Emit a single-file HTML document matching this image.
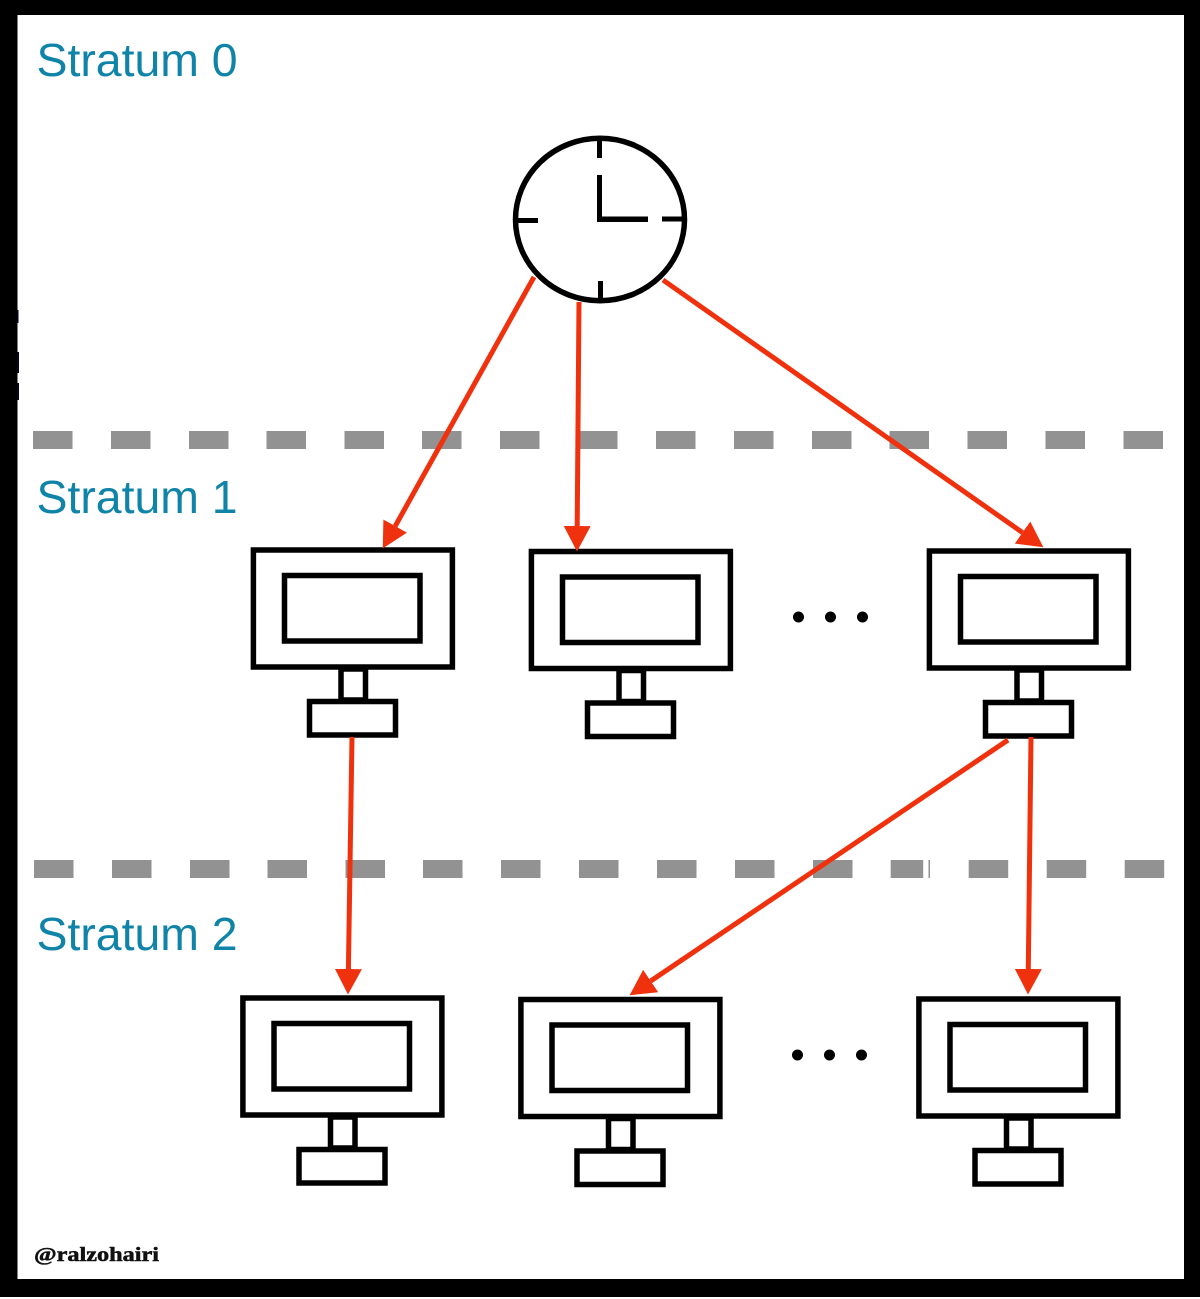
<!DOCTYPE html>
<html>
<head>
<meta charset="utf-8">
<style>
html,body{margin:0;padding:0;background:#fff;width:1200px;height:1299px;overflow:hidden}
svg{display:block}
</style>
</head>
<body>
<svg xmlns="http://www.w3.org/2000/svg" xmlns:xlink="http://www.w3.org/1999/xlink" width="1200" height="1299" viewBox="0 0 1200 1299">
<defs>
<marker id="ah" markerUnits="userSpaceOnUse" markerWidth="26" markerHeight="27" viewBox="0 -13.500 26 27" refX="0" refY="0" orient="auto">
<path d="M0,-13.500 L25.500,0 L0,13.500 z" fill="#f0310e"/>
</marker>
<g id="mon" fill="#fff" stroke="#000" stroke-width="5.500">
<rect x="253.400" y="550" width="199" height="117"/>
<rect x="284.500" y="575.500" width="135.500" height="65.500"/>
<rect x="341" y="669" width="24.500" height="31"/>
<rect x="309.500" y="701.500" width="86" height="33.500"/>
</g>
</defs>
<rect width="1200" height="1299" fill="#fff"/>
<rect x="0" y="0" width="1200" height="1297" fill="#000"/>
<rect x="17.500" y="15" width="1166.500" height="1264" fill="#fff"/>
<g fill="#05051f">
<rect x="17" y="310" width="1.500" height="13"/>
<rect x="17" y="352" width="2" height="21"/>
<rect x="17" y="383" width="2" height="17"/>
</g>

<g fill="#929292">
<rect x="33" y="431" width="39.500" height="18"/><rect x="111" y="431" width="39.500" height="18"/><rect x="189" y="431" width="39.500" height="18"/><rect x="266.500" y="431" width="39.500" height="18"/><rect x="344.500" y="431" width="39.500" height="18"/><rect x="422" y="431" width="39.500" height="18"/><rect x="500" y="431" width="39.500" height="18"/><rect x="578" y="431" width="39.500" height="18"/><rect x="656" y="431" width="39.500" height="18"/><rect x="734" y="431" width="39.500" height="18"/><rect x="812" y="431" width="39.500" height="18"/><rect x="889.500" y="431" width="39.500" height="18"/><rect x="967.500" y="431" width="39.500" height="18"/><rect x="1045.500" y="431" width="39.500" height="18"/><rect x="1123.500" y="431" width="39.500" height="18"/>
<rect x="34" y="860" width="39.500" height="18"/><rect x="112" y="860" width="39.500" height="18"/><rect x="190" y="860" width="39.500" height="18"/><rect x="267.500" y="860" width="39.500" height="18"/><rect x="345.500" y="860" width="39.500" height="18"/><rect x="423" y="860" width="39.500" height="18"/><rect x="501" y="860" width="39.500" height="18"/><rect x="579" y="860" width="39.500" height="18"/><rect x="657" y="860" width="39.500" height="18"/><rect x="735" y="860" width="39.500" height="18"/><rect x="813" y="860" width="39.500" height="18"/><rect x="890.700" y="860" width="32.500" height="18"/><rect x="928.500" y="860" width="1.500" height="18"/><rect x="968.700" y="860" width="39.500" height="18"/><rect x="1046.700" y="860" width="39.500" height="18"/><rect x="1124.700" y="860" width="39.500" height="18"/>
</g>

<g font-family="'Liberation Sans', Arial, sans-serif" font-size="46.400" fill="#0f84a8">
<text x="36.500" y="76">Stratum 0</text>
<text x="36.500" y="513">Stratum 1</text>
<text x="36.500" y="950">Stratum 2</text>
</g>
<text x="34" y="1261" font-family="'Liberation Serif', serif" font-weight="bold" font-size="20" textLength="125" lengthAdjust="spacingAndGlyphs" fill="#111" stroke="#111" stroke-width="0.500">@ralzohairi</text>

<ellipse cx="600" cy="219.500" rx="84.500" ry="81.200" fill="#fff" stroke="#000" stroke-width="5.500"/>
<g stroke="#000" fill="none">
<path d="M599.500 140V158" stroke-width="5"/>
<path d="M600.500 281V300" stroke-width="5"/>
<path d="M517 220.500H538" stroke-width="5"/>
<path d="M662 219H683" stroke-width="5"/>
<path d="M599.500 175V219" stroke-width="5"/>
<path d="M597 219.300H648" stroke-width="5.500"/>
</g>

<use xlink:href="#mon" href="#mon"/>
<use xlink:href="#mon" href="#mon" x="278" y="1.500"/>
<use xlink:href="#mon" href="#mon" x="676" y="1"/>
<use xlink:href="#mon" href="#mon" x="-10.500" y="448"/>
<use xlink:href="#mon" href="#mon" x="267.500" y="449.500"/>
<use xlink:href="#mon" href="#mon" x="665.500" y="449"/>

<g fill="#000">
<circle cx="798.500" cy="617" r="5.500"/><circle cx="830.500" cy="617" r="5.500"/><circle cx="862.500" cy="617" r="5.500"/>
<circle cx="797.500" cy="1055" r="5.500"/><circle cx="829.500" cy="1055" r="5.500"/><circle cx="861.500" cy="1055" r="5.500"/>
</g>

<g stroke="#f0310e" stroke-width="5" fill="none">
<line x1="534" y1="277" x2="395.200" y2="526.100" marker-end="url(#ah)"/>
<line x1="579" y1="302" x2="577.200" y2="526" marker-end="url(#ah)"/>
<line x1="663" y1="280" x2="1022.500" y2="532.600" marker-end="url(#ah)"/>
<line x1="352" y1="737" x2="348.400" y2="969" marker-end="url(#ah)"/>
<line x1="1008" y1="740" x2="650.700" y2="981" marker-end="url(#ah)"/>
<line x1="1031" y1="737" x2="1028.300" y2="969" marker-end="url(#ah)"/>
</g>
</svg>
</body>
</html>
